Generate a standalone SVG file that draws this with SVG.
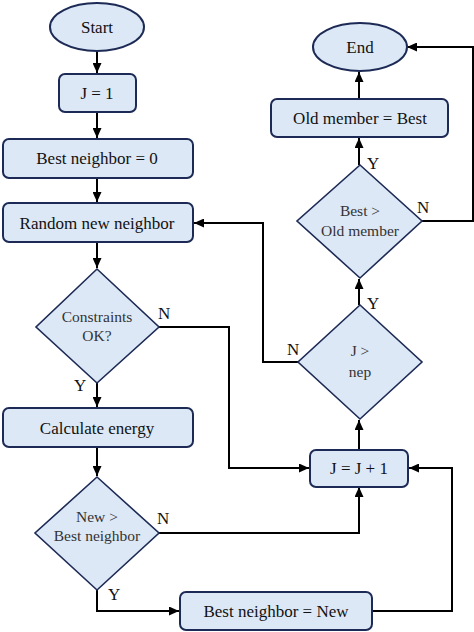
<svg xmlns="http://www.w3.org/2000/svg" width="474" height="632" viewBox="0 0 474 632">
<defs>
<style>
.n{fill:#dde8f6;stroke:#1c2a55;stroke-width:2}
.d{fill:#dde8f6;stroke:#1c2a55;stroke-width:1.6}
.t{font-family:"Liberation Serif","Times New Roman",serif;font-size:17px;fill:#111;text-anchor:middle}
.s{font-family:"Liberation Serif","Times New Roman",serif;font-size:15.5px;fill:#333;text-anchor:middle}
.l{font-family:"Liberation Serif","Times New Roman",serif;font-size:17px;fill:#111}
.c{fill:none;stroke:#000;stroke-width:2}
</style>
<marker id="a" viewBox="0 0 10 10" refX="10" refY="5" markerWidth="10" markerHeight="9" orient="auto" markerUnits="userSpaceOnUse" preserveAspectRatio="none">
<path d="M0,0 L10,5 L0,10 z" fill="#000"/>
</marker>
</defs>
<rect width="474" height="632" fill="#fff"/>
<g id="connectors">
<path class="c" d="M97,51 V73" marker-end="url(#a)"/>
<path class="c" d="M97,112 V138" marker-end="url(#a)"/>
<path class="c" d="M97,178 V202" marker-end="url(#a)"/>
<path class="c" d="M97,242 V268" marker-end="url(#a)"/>
<path class="c" d="M97,383 V407" marker-end="url(#a)"/>
<path class="c" d="M97,447 V476" marker-end="url(#a)"/>
<path class="c" d="M159,327 H229 V468 H309" marker-end="url(#a)"/>
<path class="c" d="M159,533 H359 V487" marker-end="url(#a)"/>
<path class="c" d="M97,590 V611 H179" marker-end="url(#a)"/>
<path class="c" d="M372,611 H452 V468 H409" marker-end="url(#a)"/>
<path class="c" d="M359,449 V420" marker-end="url(#a)"/>
<path class="c" d="M298,362 H263 V223 H194" marker-end="url(#a)"/>
<path class="c" d="M359,305 V279" marker-end="url(#a)"/>
<path class="c" d="M359,165 V138" marker-end="url(#a)"/>
<path class="c" d="M359,99 V72" marker-end="url(#a)"/>
<path class="c" d="M422,221 H473 V47 H407" marker-end="url(#a)"/>
</g>
<g id="start"><ellipse class="n" cx="97" cy="27" rx="47" ry="24"/><text class="t" x="97" y="33">Start</text></g>
<g id="j1"><rect class="n" x="59" y="74" width="77" height="38" rx="6"/><text class="t" x="97" y="99">J = 1</text></g>
<g id="bn0"><rect class="n" x="3" y="139" width="190" height="39" rx="6"/><text class="t" x="97" y="164">Best neighbor = 0</text></g>
<g id="rnn"><rect class="n" x="3" y="203" width="190" height="39" rx="6"/><text class="t" x="97" y="229">Random new neighbor</text></g>
<g id="cok"><polygon class="d" points="97,269 159,327 97,383 36,327"/><text class="s" x="97" y="322">Constraints</text><text class="s" x="97" y="341">OK?</text></g>
<g id="calc"><rect class="n" x="3" y="408" width="190" height="39" rx="6"/><text class="t" x="97" y="434">Calculate energy</text></g>
<g id="newbest"><polygon class="d" points="97,477 159,533 97,590 35,533"/><text class="s" x="97" y="522">New &gt;</text><text class="s" x="97" y="541">Best neighbor</text></g>
<g id="bnnew"><rect class="n" x="180" y="592" width="192" height="38" rx="6"/><text class="t" x="276" y="617">Best neighbor = New</text></g>
<g id="jinc"><rect class="n" x="310" y="450" width="98" height="37" rx="6"/><text class="t" x="359" y="474">J = J + 1</text></g>
<g id="jnep"><polygon class="d" points="360,305 422,362 360,419 298,362"/><text class="s" x="360" y="356">J &gt;</text><text class="s" x="360" y="377">nep</text></g>
<g id="bestold"><polygon class="d" points="360,165 422,221 360,278 297,221"/><text class="s" x="360" y="216">Best &gt;</text><text class="s" x="360" y="236">Old member</text></g>
<g id="oldbest"><rect class="n" x="271" y="99" width="177" height="38" rx="6"/><text class="t" x="360" y="124">Old member = Best</text></g>
<g id="end"><ellipse class="n" cx="360" cy="47" rx="47" ry="24"/><text class="t" x="360" y="53">End</text></g>
<g id="labels">
<text class="l" x="158" y="319">N</text>
<text class="l" x="74" y="391">Y</text>
<text class="l" x="157" y="524">N</text>
<text class="l" x="108" y="600">Y</text>
<text class="l" x="287" y="355">N</text>
<text class="l" x="367" y="309">Y</text>
<text class="l" x="367" y="169">Y</text>
<text class="l" x="417" y="213">N</text>
</g>
</svg>
